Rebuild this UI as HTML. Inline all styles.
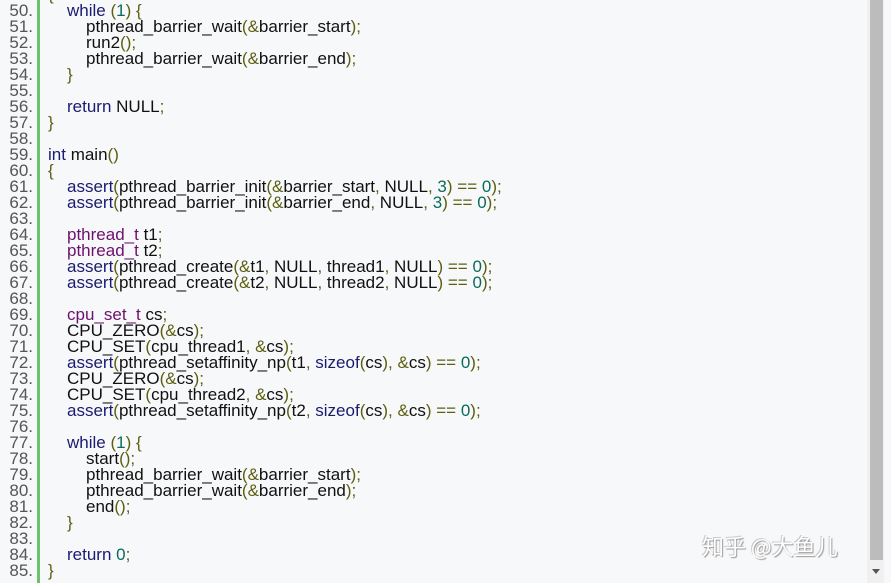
<!DOCTYPE html>
<html><head><meta charset="utf-8"><style>
body{margin:0;width:891px;height:583px;background:#f7f8fa;overflow:hidden;position:relative;font-family:"Liberation Sans","DejaVu Sans",sans-serif;}
.ln{position:absolute;left:0;width:33px;text-align:right;font-size:17px;color:#555;line-height:16px;}
.c{position:absolute;font-size:17px;line-height:16px;white-space:pre;color:#111;}
.k{color:#1b1b70}.p{color:#5e5e10}.t{color:#6e106e}.n{color:#0b6b5b}
#bar{position:absolute;left:37px;top:0;width:3px;height:583px;background:#6cc16c;}
#track{position:absolute;left:867px;top:0;width:17px;height:583px;background:#f0f0f0;}
#thumb{position:absolute;left:870px;top:0;width:13px;height:560px;background:#bcbcbc;}
#arr{position:absolute;left:872px;top:569px;width:0;height:0;border-left:4px solid transparent;border-right:4px solid transparent;border-top:5px solid #555;}
#wm{position:absolute;left:702px;top:530px;font-size:22px;color:#fff;text-shadow:1px 1px 1px #999,-1px -1px 0 #ccc;font-family:"Noto Sans CJK SC",sans-serif;}
</style></head><body>
<div id="bar"></div>
<div id="track"></div><div id="thumb"></div><div id="arr"></div>
<div id="code"></div>
<script>
var L=[
[1,'<span class="k">while</span> <span class="p">(</span><span class="n">1</span><span class="p">) {</span>'],
[2,'pthread_barrier_wait<span class="p">(&amp;</span>barrier_start<span class="p">);</span>'],
[2,'run2<span class="p">();</span>'],
[2,'pthread_barrier_wait<span class="p">(&amp;</span>barrier_end<span class="p">);</span>'],
[1,'<span class="p">}</span>'],
[0,''],
[1,'<span class="k">return</span> NULL<span class="p">;</span>'],
[0,'<span class="p">}</span>'],
[0,''],
[0,'<span class="k">int</span> main<span class="p">()</span>'],
[0,'<span class="p">{</span>'],
[1,'<span class="k">assert</span><span class="p">(</span>pthread_barrier_init<span class="p">(&amp;</span>barrier_start<span class="p">,</span> NULL<span class="p">,</span> <span class="n">3</span><span class="p">) ==</span> <span class="n">0</span><span class="p">);</span>'],
[1,'<span class="k">assert</span><span class="p">(</span>pthread_barrier_init<span class="p">(&amp;</span>barrier_end<span class="p">,</span> NULL<span class="p">,</span> <span class="n">3</span><span class="p">) ==</span> <span class="n">0</span><span class="p">);</span>'],
[0,''],
[1,'<span class="t">pthread_t</span> t1<span class="p">;</span>'],
[1,'<span class="t">pthread_t</span> t2<span class="p">;</span>'],
[1,'<span class="k">assert</span><span class="p">(</span>pthread_create<span class="p">(&amp;</span>t1<span class="p">,</span> NULL<span class="p">,</span> thread1<span class="p">,</span> NULL<span class="p">) ==</span> <span class="n">0</span><span class="p">);</span>'],
[1,'<span class="k">assert</span><span class="p">(</span>pthread_create<span class="p">(&amp;</span>t2<span class="p">,</span> NULL<span class="p">,</span> thread2<span class="p">,</span> NULL<span class="p">) ==</span> <span class="n">0</span><span class="p">);</span>'],
[0,''],
[1,'<span class="t">cpu_set_t</span> cs<span class="p">;</span>'],
[1,'CPU_ZERO<span class="p">(&amp;</span>cs<span class="p">);</span>'],
[1,'CPU_SET<span class="p">(</span>cpu_thread1<span class="p">, &amp;</span>cs<span class="p">);</span>'],
[1,'<span class="k">assert</span><span class="p">(</span>pthread_setaffinity_np<span class="p">(</span>t1<span class="p">,</span> <span class="k">sizeof</span><span class="p">(</span>cs<span class="p">), &amp;</span>cs<span class="p">) ==</span> <span class="n">0</span><span class="p">);</span>'],
[1,'CPU_ZERO<span class="p">(&amp;</span>cs<span class="p">);</span>'],
[1,'CPU_SET<span class="p">(</span>cpu_thread2<span class="p">, &amp;</span>cs<span class="p">);</span>'],
[1,'<span class="k">assert</span><span class="p">(</span>pthread_setaffinity_np<span class="p">(</span>t2<span class="p">,</span> <span class="k">sizeof</span><span class="p">(</span>cs<span class="p">), &amp;</span>cs<span class="p">) ==</span> <span class="n">0</span><span class="p">);</span>'],
[0,''],
[1,'<span class="k">while</span> <span class="p">(</span><span class="n">1</span><span class="p">) {</span>'],
[2,'start<span class="p">();</span>'],
[2,'pthread_barrier_wait<span class="p">(&amp;</span>barrier_start<span class="p">);</span>'],
[2,'pthread_barrier_wait<span class="p">(&amp;</span>barrier_end<span class="p">);</span>'],
[2,'end<span class="p">();</span>'],
[1,'<span class="p">}</span>'],
[0,''],
[1,'<span class="k">return</span> <span class="n">0</span><span class="p">;</span>'],
[0,'<span class="p">}</span>']
];
var h='<div class="c" style="left:48px;top:-13px"><span class="p">{</span></div>';
for(var i=0;i<L.length;i++){var y=3+16*i;
h+='<div class="ln" style="top:'+y+'px">'+(50+i)+'.</div>';
h+='<div class="c" style="left:'+(48+19*L[i][0])+'px;top:'+y+'px">'+L[i][1]+'</div>';}
document.getElementById('code').innerHTML=h;
</script>
<div id="wm">知乎 @大鱼儿</div>
</body></html>
